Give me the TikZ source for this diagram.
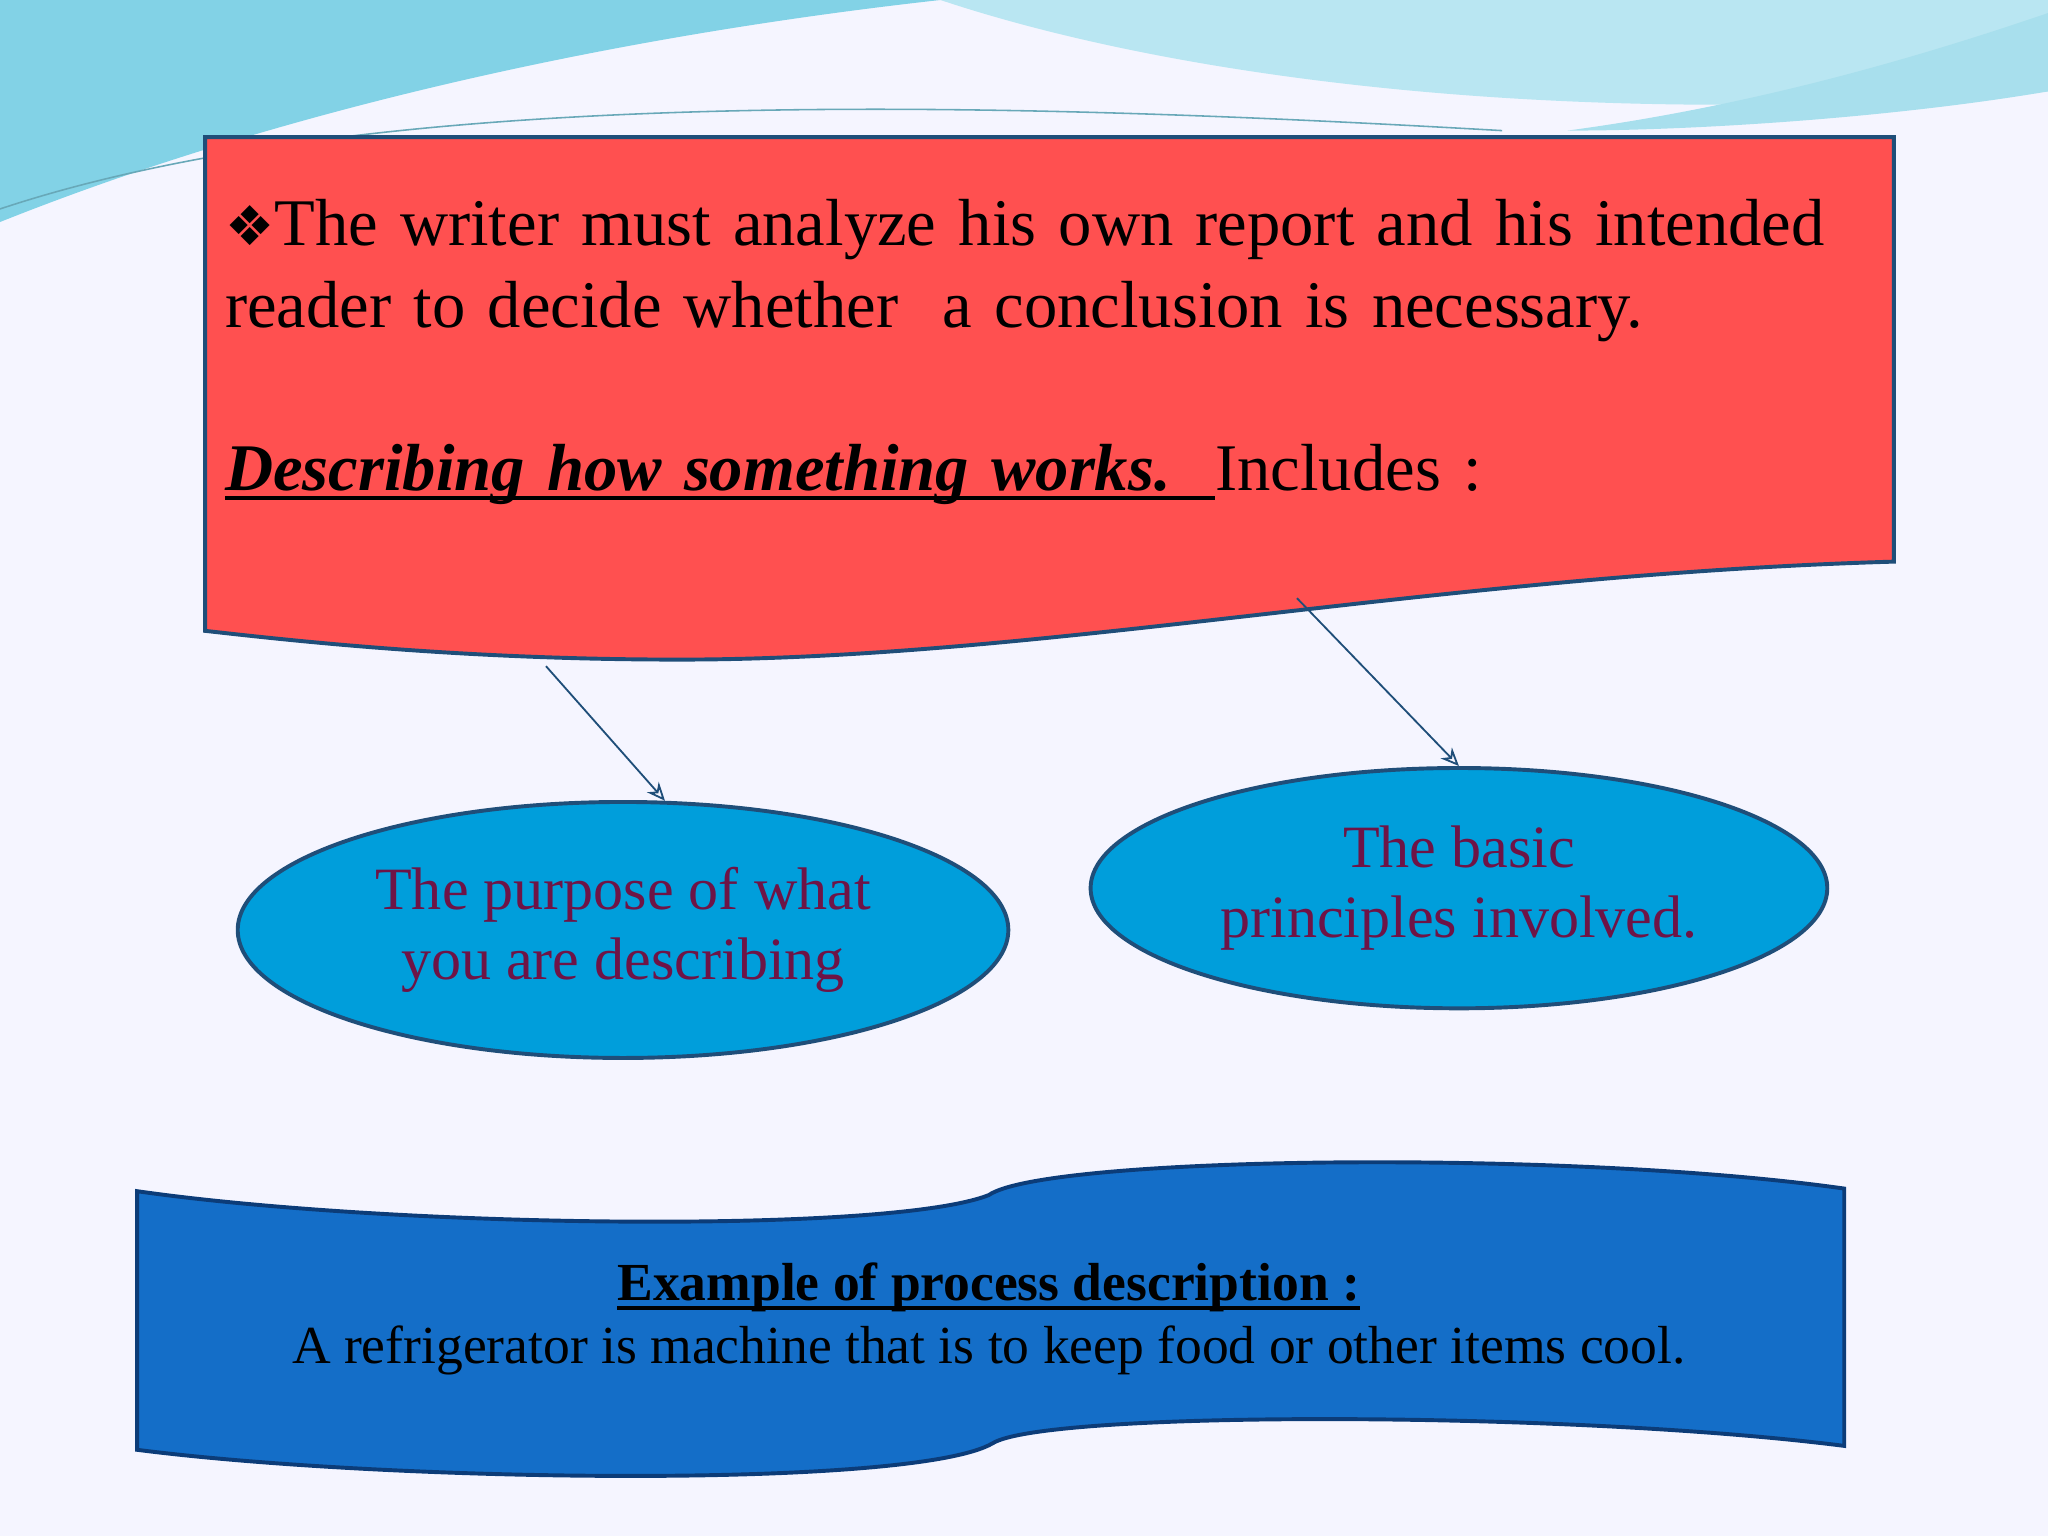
\documentclass[tikz,border=0pt]{standalone}
\usepackage{fontspec}
\setmainfont{Liberation Serif}
\newfontfamily\dejavu{DejaVu Sans}
\usetikzlibrary{arrows.meta,shapes.geometric}
\definecolor{redfill}{RGB}{255,80,80}
\definecolor{edge}{RGB}{31,78,121}
\definecolor{cyanfill}{RGB}{0,158,219}
\definecolor{purp}{RGB}{110,20,70}
\definecolor{bluefill}{RGB}{20,110,200}
\definecolor{blueedge}{RGB}{12,60,120}
\definecolor{skyA}{RGB}{130,210,230}
\definecolor{skyB}{RGB}{185,230,242}
\newcommand{\thickul}[1]{\leavevmode\setbox0\hbox{#1}\rlap{\rule[-3.5pt]{\wd0}{1.4pt}}\box0}
\tikzset{conn/.style={-{Stealth[length=7pt,width=6pt,open]},draw=edge,line width=0.7pt},
ell/.style={ellipse,fill=cyanfill,draw=edge,line width=1.5pt,text=purp,align=center,font=\fontsize{23}{27}\selectfont}}
\begin{document}
\begin{tikzpicture}[x=0.5pt,y=-0.5pt]
\useasboundingbox (0,0) rectangle (1568,1176);
\fill[white!96!blue] (0,0) rectangle (1568,1176);
% sky decoration
\fill[skyA] (0,0) -- (0,170) .. controls (200,90) and (450,30) .. (720,0) -- cycle;
\fill[skyB] (720,0) .. controls (900,60) and (1200,100) .. (1568,70) -- (1568,0) -- cycle;
\fill[skyA!70] (1200,100) .. controls (1350,80) and (1480,40) .. (1568,10) -- (1568,70) .. controls (1450,90) and (1300,100) .. (1200,100) -- cycle;
\draw[skyA!80!black,line width=0.6pt] (0,160) .. controls (300,60) and (800,80) .. (1150,100);
% red wave
\draw[fill=redfill,draw=edge,line width=1.5pt] (157,105) -- (1450,105) -- (1450,430)
  .. controls (1100,440) and (800,505) .. (520,505) .. controls (350,505) and (220,490) .. (157,483) -- cycle;
\node[anchor=north west,text width=640pt,align=left,font=\fontsize{25.5}{31.5}\selectfont,inner sep=0pt] (top) at (172,152)
{{\dejavu\fontsize{21}{24}\selectfont ❖}The writer must analyze his own report and his intended reader to decide whether~ a conclusion is necessary.\par\vspace{31pt}
\thickul{\textbf{\textit{Describing how something works.}}~~}Includes :};
\coordinate (a1) at (418,510);
\coordinate (a2) at (993,458);
\node[ell,minimum width=295pt,minimum height=98pt] (e1) at (477,712) {The purpose of what\\you are describing};
\node[ell,minimum width=282pt,minimum height=92pt] (e2) at (1117,680) {The basic\\principles involved.};
\draw[conn] (a1) -- (e1.72);
\draw[conn] (a2) -- (e2.north);
% bottom banner
\draw[fill=bluefill,draw=blueedge,line width=1.5pt] (105,912) .. controls (300,940) and (680,945) .. (757,915)
  .. controls (800,885) and (1200,880) .. (1412,910) -- (1412,1107)
  .. controls (1200,1080) and (800,1080) .. (760,1105) .. controls (700,1140) and (300,1135) .. (105,1110) -- cycle;
\node[align=center,font=\fontsize{20.5}{24}\selectfont] (ex) at (757,1010)
{\thickul{\textbf{Example of process description :}}\\A refrigerator is machine that is to keep food or other items cool.};
\end{tikzpicture}
\end{document}
